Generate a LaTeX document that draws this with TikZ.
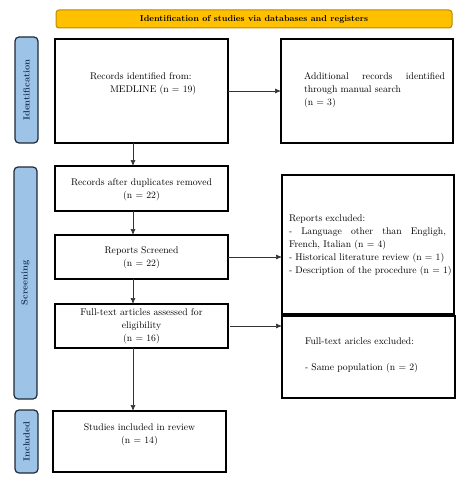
\documentclass[tikz,border=0pt]{standalone}
\usetikzlibrary{arrows.meta,calc}
\definecolor{banner}{HTML}{FFC000}
\definecolor{bannerline}{HTML}{B88A00}
\definecolor{sidefill}{HTML}{9DC3E6}
\definecolor{sideline}{HTML}{1F2A3A}
\definecolor{sidetext}{HTML}{1F3864}
\begin{document}
\begin{tikzpicture}[x=1pt,y=-1pt,
  every node/.style={inner sep=0pt,outer sep=0pt},
  txt/.style={font=\fontsize{9.7}{13}\selectfont},
  box/.style={draw=black,line width=1.2pt,fill=white},
  side/.style={draw=sideline,line width=1.2pt,fill=sidefill,rounded corners=4pt,rotate=90,
    font=\fontsize{9}{11}\selectfont\bfseries,text=sidetext},
  arr/.style={draw=black!80,line width=0.7pt,-{Latex[length=6pt,width=5pt]}}]
\useasboundingbox (0,0) rectangle (474,484);
% banner
\node[draw=bannerline,line width=1pt,fill=banner,rounded corners=3pt,minimum width=396pt,minimum height=18pt,
  font=\fontsize{8.6}{11}\selectfont\bfseries] (ban) at (254,19) {Identification of studies via databases and registers};
% side labels
\node[side,minimum width=106pt,minimum height=23pt] (sid) at (26.5,90) {Identification};
\node[side,minimum width=232pt,minimum height=23pt] (sscr) at (25.5,283) {Screening};
\node[side,minimum width=63pt,minimum height=23pt] (sinc) at (26.5,441.5) {Included};
% boxes
\node[box,minimum width=173pt,minimum height=104pt] (b1) at (141.5,91) {};
\node[box,minimum width=172pt,minimum height=104pt] (b2) at (367,91) {};
\node[box,minimum width=173pt,minimum height=45pt] (b3) at (141.5,188.5) {};
\node[box,minimum width=173pt,minimum height=44pt] (b4) at (141.5,257) {};
\node[box,minimum width=173pt,minimum height=44pt] (b5) at (141.5,326) {};
\node[box,minimum width=173pt,minimum height=61pt] (b6) at (139.5,441.5) {};
\node[box,minimum width=172pt,minimum height=139pt] (r1) at (368,244.5) {};
\node[box,minimum width=173pt,minimum height=82pt] (r2) at (368.5,357) {};
% texts
\node[txt,align=left,anchor=north west] (t1) at (90,73) {Records identified from:\\\hspace*{20pt}MEDLINE (n = 19)};
\node[txt,text width=141pt,align=justify,anchor=north west] (t2) at (304,73) {Additional records identified through manual search\\(n = 3)};
\node[txt,align=center] (t3) at (141.5,189.5) {Records after duplicates removed\\(n = 22)};
\node[txt,align=center] (t4) at (141.5,257.5) {Reports Screened\\(n = 22)};
\node[txt,align=center] (t5) at (141.5,326.5) {Full-text articles assessed for\\eligibility\\(n = 16)};
\node[txt,align=center] (t6) at (139.5,434.5) {Studies included in review\\(n = 14)};
\node[txt,text width=157pt,align=justify,anchor=north west] (t7) at (289,215) {Reports excluded:\\- Language other than Engligh, French, Italian (n = 4)\\\mbox{- Historical literature review (n = 1)}\\\mbox{- Description of the procedure (n = 1)}};
\node[txt,align=left,anchor=north west] (t8) at (305,338) {Full-text aricles excluded:\\[13pt]- Same population (n = 2)};
% arrows
\coordinate (ax) at (133,0);
\draw[arr] (b1.east) -- (b2.west);
\draw[arr] (b1.south -| ax) -- (b3.north -| ax);
\draw[arr] (b3.south -| ax) -- (b4.north -| ax);
\draw[arr] (b4.south -| ax) -- (b5.north -| ax);
\draw[arr] (b5.south -| ax) -- (b6.north -| ax);
\draw[arr] (b4.east) -- (b4.east -| r1.west);
\draw[arr] ($(b5.east)+(2,0)$) -- ($(b5.east -| r2.west)$);
\end{tikzpicture}
\end{document}
